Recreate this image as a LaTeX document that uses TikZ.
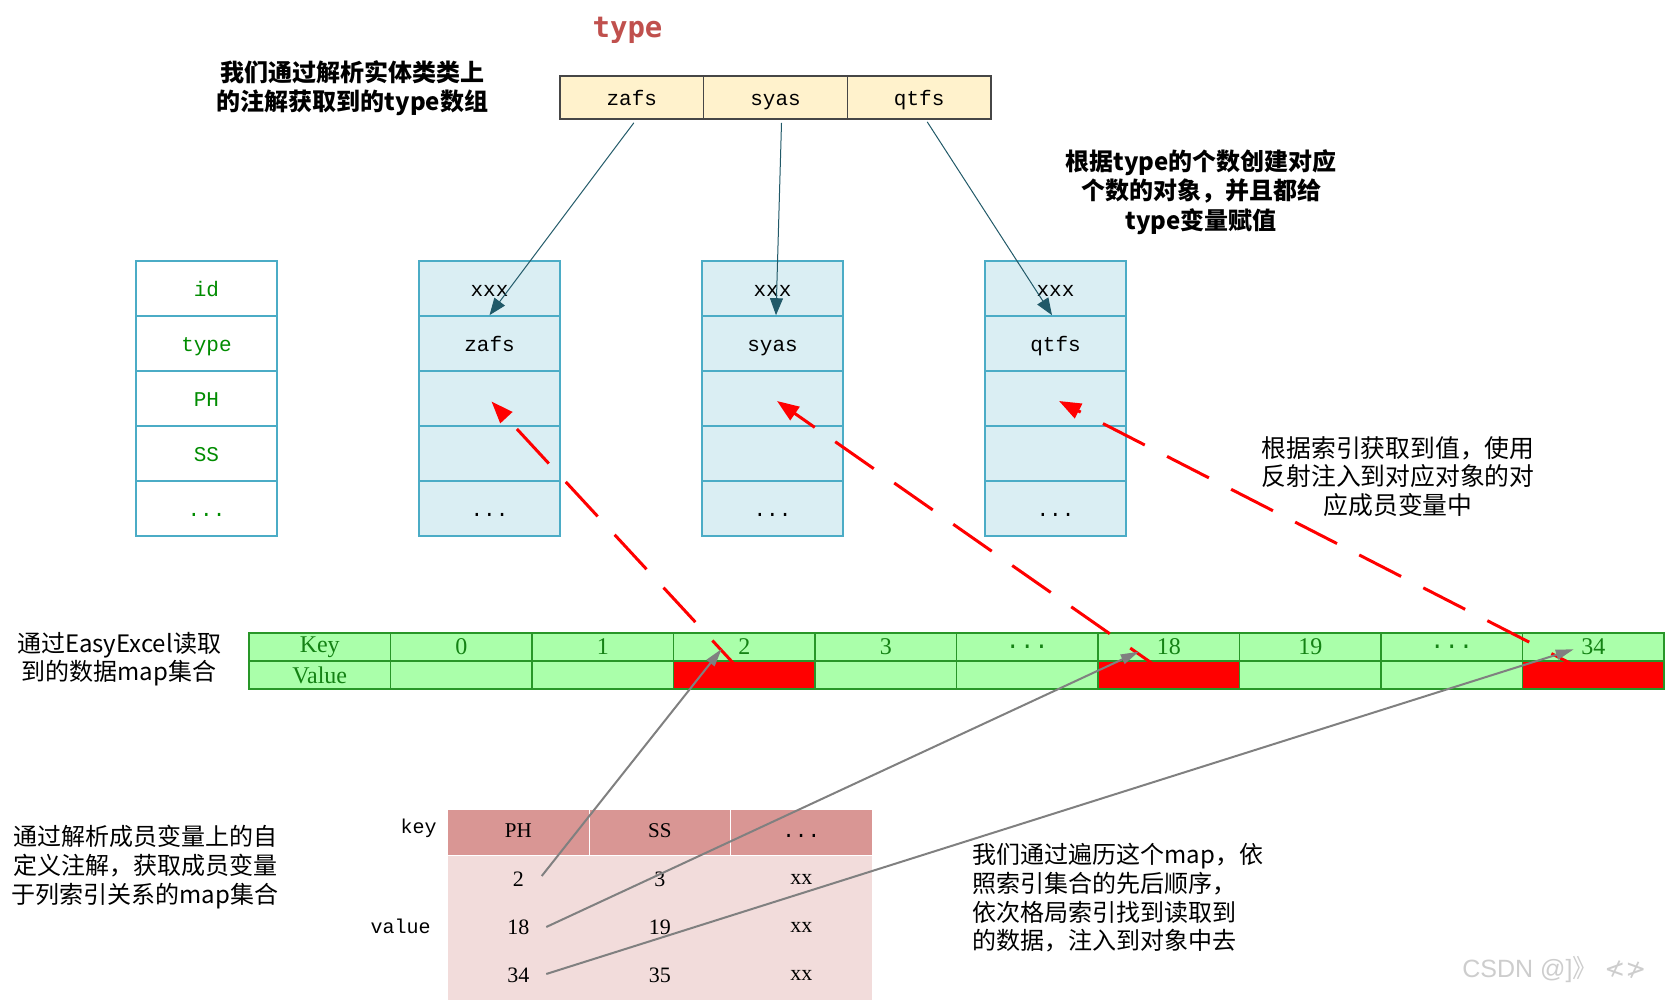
\documentclass[tikz,border=0pt]{standalone}
\usepackage{fontspec}
\setmainfont{Liberation Serif}
\newfontfamily\cjk{Noto Sans CJK SC}
\newfontfamily\monof{Liberation Mono}
\newfontfamily\titlef{DejaVu Sans Mono}
\newfontfamily\dejav{DejaVu Sans}
\newfontfamily\wmf{Liberation Sans}
\usetikzlibrary{arrows.meta,calc}
\definecolor{typered}{RGB}{192,80,77}
\definecolor{cream}{RGB}{255,242,204}
\definecolor{creamborder}{RGB}{70,70,70}
\definecolor{objfill}{RGB}{218,238,243}
\definecolor{objborder}{RGB}{75,172,198}
\definecolor{fgreen}{RGB}{0,140,0}
\definecolor{tgreen}{RGB}{20,130,20}
\definecolor{gfill}{RGB}{170,255,170}
\definecolor{gborder}{RGB}{40,150,40}
\definecolor{hdrfill}{RGB}{217,150,148}
\definecolor{bodyfill}{RGB}{242,220,219}
\definecolor{tealarr}{RGB}{33,89,104}
\definecolor{arrgray}{RGB}{128,128,128}
\definecolor{wmgray}{RGB}{205,205,205}
\newcommand\dd{{\monof...}}
\begin{document}
\begin{tikzpicture}[x=0.5pt,y=-0.5pt,
  topcell/.style={draw=creamborder, fill=cream, line width=0.8pt, minimum width=71.83pt, minimum height=21.5pt, inner sep=0pt, text height=8.2pt, text depth=0.5pt, font=\monof\fontsize{10.5}{12}\selectfont},
  fieldcell/.style={draw=objborder, fill=white, line width=0.8pt, minimum width=70.5pt, minimum height=27.5pt, inner sep=0pt, text height=8.2pt, text depth=0.5pt, text=fgreen, font=\monof\fontsize{10.5}{12}\selectfont},
  objcell/.style={fieldcell, fill=objfill, text=black},
  gcell/.style={draw=gborder, fill=gfill, line width=0.7pt, minimum width=70.75pt, minimum height=14pt, inner sep=0pt, text=tgreen, font=\fontsize{12}{14}\selectfont},
  rcell/.style={gcell, fill=red},
  hcell/.style={draw=white, line width=0.5pt, fill=hdrfill, minimum width=70.75pt, minimum height=23pt, inner sep=0pt, text height=7pt, text depth=1.5pt, font=\fontsize{10.5}{12}\selectfont},
  bcell/.style={inner sep=0pt, font=\fontsize{11}{13}\selectfont},
  lbl/.style={inner sep=0pt, anchor=east, font=\monof\fontsize{10}{12}\selectfont},
  note/.style={inner sep=0pt, align=center, font=\cjk\fontsize{12}{14.5}\selectfont},
  boldnote/.style={note, font=\cjk\bfseries\fontsize{12}{14.5}\selectfont},
  tealline/.style={draw=tealarr, line width=0.5pt, -{Triangle[length=8.5pt,width=6.5pt]}},
  redline/.style={draw=red, line width=1.5pt, dash pattern=on 23.5pt off 12.5pt, -{Triangle[length=11pt,width=8pt]}},
  grayline/.style={draw=arrgray, line width=1pt, -{Triangle[length=9pt,width=5pt]}}
]
\useasboundingbox (0,0) rectangle (1666,1000);

% title and notes
\node[inner sep=0pt, text=typered, font=\titlef\bfseries\fontsize{14.5}{17}\selectfont] (title) at (627.5,30) {type};
\node[boldnote, font=\cjk\bfseries\fontsize{12}{14.25}\selectfont] (note1) at (352.5,88) {我们通过解析实体类类上\\的注解获取到的type数组};
\node[boldnote, font=\cjk\bfseries\fontsize{12}{14.75}\selectfont] (note2) at (1201,192) {根据type的个数创建对应\\个数的对象，并且都给\\type变量赋值};
\node[note, font=\cjk\fontsize{12.4}{14.25}\selectfont] (note3) at (1398,476.5) {根据索引获取到值，使用\\反射注入到对应对象的对\\应成员变量中};
\node[note, font=\cjk\fontsize{12}{14}\selectfont] (note4) at (119,659) {通过EasyExcel读取\\到的数据map集合};
\node[note, font=\cjk\fontsize{12}{14.5}\selectfont] (note5) at (145,867) {通过解析成员变量上的自\\定义注解，获取成员变量\\于列索引关系的map集合};
\node[note, align=left, anchor=west, font=\cjk\fontsize{12}{14.35}\selectfont] (note6) at (972,898) {我们通过遍历这个map，依\\照索引集合的先后顺序，\\依次格局索引找到读取到\\的数据，注入到对象中去};

% top type array
\foreach \nm [count=\i] in {zafs,syas,qtfs}
  \node[topcell] (t\i) at ({560+143.67*(\i-0.5)},97.5) {\nm};

% field column
\foreach \nm [count=\r] in {id,type,PH,SS,\dd}
  \node[fieldcell] (f\r) at (206.5,{261+55*(\r-0.5)}) {\nm};

% object boxes
\foreach \nm [count=\j] in {zafs,syas,qtfs}{
  \foreach \v [count=\r] in {xxx,\nm,{},{},\dd}
    \node[objcell] (o\j\r) at ({489.5+283*(\j-1)},{261+55*(\r-0.5)}) {\v};
}

% green key/value table
\node[gcell] (k0) at (319.75,647) {Key};
\foreach \nm [count=\i] in {0,1,2,3,\dd,18,19,\dd,34}
  \node[gcell] (k\i) at ({319.75+141.5*\i},647) {\nm};
\node[gcell] (v0) at (319.75,675) {Value};
\foreach \i/\s in {1/gcell,2/gcell,3/rcell,4/gcell,5/gcell,6/rcell,7/gcell,8/gcell,9/rcell}
  \node[\s] (v\i) at ({319.75+141.5*\i},675) {};

% bottom map table
\fill[bodyfill] (447.5,855) rectangle (872,1000);
\foreach \nm [count=\i] in {PH,SS,\dd}
  \node[hcell] (h\i) at ({447.5+141.5*(\i-0.5)},832) {\nm};
\foreach \a/\b/\c [count=\r] in {2/3/xx,18/19/xx,34/35/xx}{
  \node[bcell] (b\r1) at (518.25,{879+48*(\r-1)}) {\a};
  \node[bcell] (b\r2) at (659.75,{879+48*(\r-1)}) {\b};
  \node[bcell] (b\r3) at (801.25,{879+48*(\r-1)}) {\c};
}
\node[lbl] (keylbl) at (437,828) {key};
\node[lbl] (valuelbl) at (431,926) {value};

% watermark
\node[inner sep=0pt, anchor=west, text=wmgray, font=\wmf\fontsize{12.5}{14}\selectfont] (wm) at (1462,970) {CSDN @]{\cjk 》} {\dejav ≮≯}};

% teal arrows
\draw[tealline] ($(t1.south)+(2,3)$) -- (o12.north);
\draw[tealline] ($(t2.south)+(6,3)$) -- ($(o22.north)+(3.5,0)$);
\draw[tealline] ($(t3.south)+(8,2)$) -- ($(o32.north)+(-3.5,0)$);

% red dashed arrows
\draw[redline] (v3.center) -- ($(o13.center)+(2,3)$);
\draw[redline] (v6.center) -- ($(o23.center)+(4.5,2.5)$);
\draw[redline] (v9.center) -- ($(o33.center)+(3.5,2.5)$);

% gray arrows
\draw[grayline] ($(b11.center)+(23.5,-3)$) -- ($(k3.center)+(-22.6,2)$);
\draw[grayline] ($(b21.center)+(28,0)$) -- ($(k6.center)+(-30,4.7)$);
\draw[grayline] ($(b31.center)+(28,-1)$) -- ($(k9.center)+(-19.5,2.3)$);
\end{tikzpicture}
\end{document}
